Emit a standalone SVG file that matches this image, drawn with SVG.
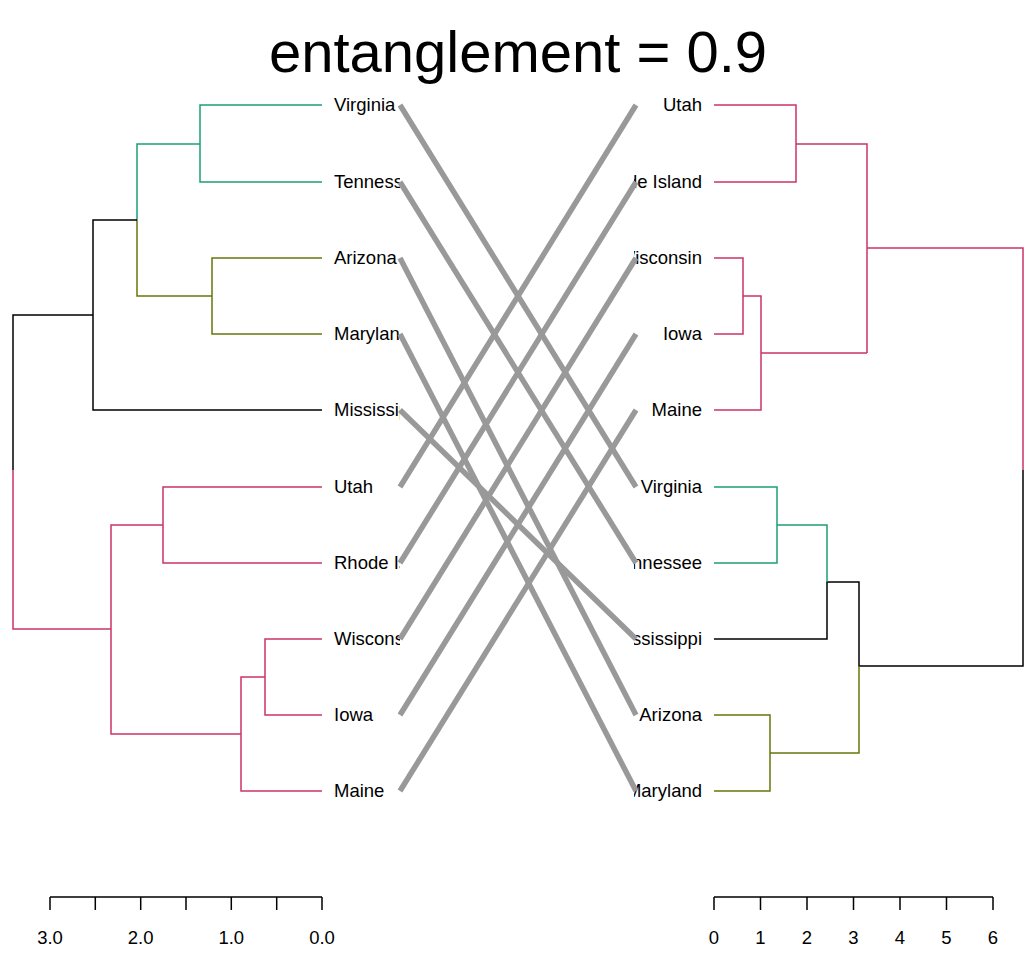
<svg xmlns="http://www.w3.org/2000/svg" width="1036" height="960" viewBox="0 0 1036 960">
<style>
text{font-family:"Liberation Sans",Arial,sans-serif;font-size:18.5px;fill:#000}
.t{stroke:#1B9E77;fill:none;stroke-width:1.5}
.o{stroke:#66780A;fill:none;stroke-width:1.5}
.p{stroke:#CC3366;fill:none;stroke-width:1.5}
.k{stroke:#000;fill:none;stroke-width:1.5}
.c line{stroke:#999;stroke-width:5.5}
.ax{stroke:#000;stroke-width:1.5;fill:none}
</style>
<defs>
<clipPath id="cl"><rect x="0" y="0" width="400" height="960"/></clipPath>
<clipPath id="cr"><rect x="634" y="0" width="402" height="960"/></clipPath>
</defs>
<rect width="1036" height="960" fill="#fff"/>
<text x="518" y="72" text-anchor="middle" style="font-size:58px">entanglement = 0.9</text>
<g id="left-tree">
<path class="t" d="M322 105H200V182H322M200 144H137V220"/>
<path class="o" d="M322 258H212V334H322M212 296H137V220"/>
<path class="k" d="M137 220H93V410H322M93 315H13V470"/>
<path class="p" d="M13 470V629H111M322 487H163V563H322M163 525H111V734H241M322 639H265V715H322M265 677H241V791H322"/>
</g>
<g id="left-labels" clip-path="url(#cl)">
<text x="334" y="111">Virginia</text><text x="334" y="188">Tennessee</text>
<text x="334" y="264">Arizona</text><text x="334" y="340">Maryland</text>
<text x="334" y="416">Mississippi</text><text x="334" y="493">Utah</text>
<text x="334" y="569">Rhode Island</text><text x="334" y="645">Wisconsin</text>
<text x="334" y="721">Iowa</text><text x="334" y="797">Maine</text>
</g>
<g id="right-tree">
<path class="p" d="M714 105H796V182H714M796 144H867V353M714 258H743V334H714M743 296H761V410H714M761 353H867M867 248H1023V470"/>
<path class="k" d="M1023 470V666H859V582H827V639H714"/>
<path class="t" d="M714 487H777V563H714M777 525H827V582"/>
<path class="o" d="M859 666V753H770M714 715H770V791H714"/>
</g>
<g id="right-labels" clip-path="url(#cr)" text-anchor="end">
<text x="702" y="111">Utah</text><text x="702" y="188">Rhode Island</text>
<text x="702" y="264">Wisconsin</text><text x="702" y="340">Iowa</text>
<text x="702" y="416">Maine</text><text x="702" y="493">Virginia</text>
<text x="702" y="569">Tennessee</text><text x="702" y="645">Mississippi</text>
<text x="702" y="721">Arizona</text><text x="702" y="797">Maryland</text>
</g>
<g id="connectors" class="c">
<line x1="400" y1="105" x2="636" y2="487"/>
<line x1="400" y1="182" x2="636" y2="563"/>
<line x1="400" y1="258" x2="636" y2="715"/>
<line x1="400" y1="334" x2="636" y2="791"/>
<line x1="400" y1="410" x2="636" y2="639"/>
<line x1="400" y1="487" x2="636" y2="105"/>
<line x1="400" y1="563" x2="636" y2="182"/>
<line x1="400" y1="639" x2="636" y2="258"/>
<line x1="400" y1="715" x2="636" y2="334"/>
<line x1="400" y1="791" x2="636" y2="410"/>
</g>
<g id="left-axis">
<path class="ax" d="M50 897H322M50 897V910M95.3 897V910M140.7 897V910M186 897V910M231.3 897V910M276.7 897V910M322 897V910"/>
<text x="50" y="944" text-anchor="middle">3.0</text><text x="140.7" y="944" text-anchor="middle">2.0</text>
<text x="231.3" y="944" text-anchor="middle">1.0</text><text x="322" y="944" text-anchor="middle">0.0</text>
</g>
<g id="right-axis" text-anchor="middle">
<path class="ax" d="M714 897H993M714 897V910M760.5 897V910M807 897V910M853.5 897V910M900 897V910M946.5 897V910M993 897V910"/>
<text x="714" y="944">0</text><text x="760.5" y="944">1</text><text x="807" y="944">2</text><text x="853.5" y="944">3</text><text x="900" y="944">4</text><text x="946.5" y="944">5</text><text x="993" y="944">6</text>
</g>
</svg>
